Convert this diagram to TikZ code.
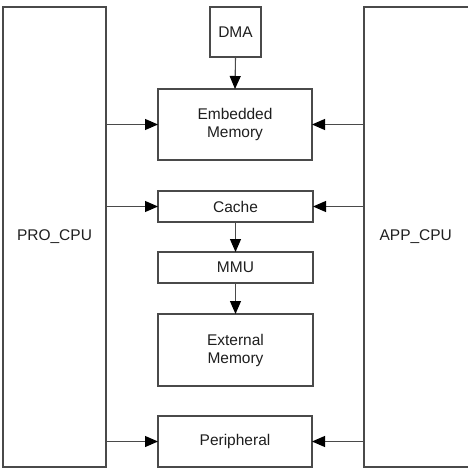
\documentclass[tikz,border=0pt]{standalone}
\usepackage{fontspec}
\setmainfont{Liberation Sans}
\usetikzlibrary{arrows.meta}
\definecolor{linegray}{HTML}{4A4A4A}
\definecolor{txtgray}{HTML}{1E1E1E}
\begin{document}
\begin{tikzpicture}[x=1pt,y=-1pt,
  blk/.style={draw=linegray,line width=1.3pt,inner sep=0pt,outer sep=0pt,align=center,
    font=\fontsize{15.5}{18}\selectfont,text=txtgray},
  lbl/.style={inner sep=0pt,outer sep=0pt,align=center,font=\fontsize{15.5}{18}\selectfont,text=txtgray},
  arr/.style={draw=linegray,line width=1.1pt,-{Triangle[length=13pt,width=11pt,color=black]}},
  edge/.style={draw=linegray,line width=1.3pt}]
\useasboundingbox (0,0) rectangle (474,474);
\node[blk,minimum width=103pt,minimum height=460pt] (pro) at (54.5,237) {PRO\_CPU};
\node[lbl,minimum width=103.5pt,minimum height=460pt] (app) at (415.75,237) {APP\_CPU};
\draw[edge] (app.north east) -- (app.north west) -- (app.south west) -- (app.south east);
\node[blk,minimum width=51pt,minimum height=50pt] (dma) at (235.5,32) {DMA};
\node[blk,minimum width=154pt,minimum height=71pt] (emb) at (235,124.5) {Embedded\\Memory};
\node[blk,minimum width=155pt,minimum height=31pt] (cache) at (235.5,206.5) {Cache};
\node[blk,minimum width=155pt,minimum height=31pt] (mmu) at (235.5,267.5) {MMU};
\node[blk,minimum width=155pt,minimum height=72pt] (ext) at (235.5,350) {External\\Memory};
\node[blk,minimum width=154pt,minimum height=51pt] (per) at (235,441.5) {Peripheral};
\draw[arr] (dma.south) -- (emb.north);
\draw[arr] (cache.south) -- (mmu.north);
\draw[arr] (mmu.south) -- (ext.north);
\draw[arr] (emb.west -| pro.east) -- (emb.west);
\draw[arr] (emb.east -| app.west) -- (emb.east);
\draw[arr] (cache.west -| pro.east) -- (cache.west);
\draw[arr] (cache.east -| app.west) -- (cache.east);
\draw[arr] (per.west -| pro.east) -- (per.west);
\draw[arr] (per.east -| app.west) -- (per.east);
\end{tikzpicture}
\end{document}
